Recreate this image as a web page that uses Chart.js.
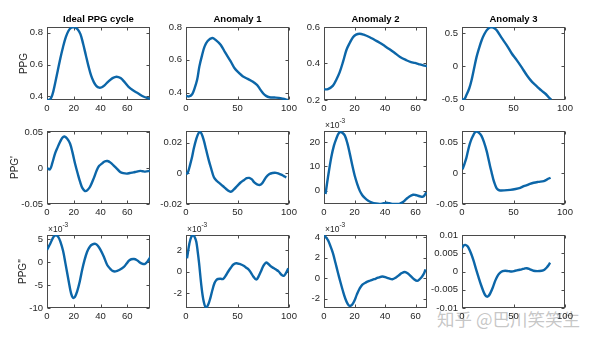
<!DOCTYPE html>
<html>
<head>
<meta charset="utf-8">
<script src="https://cdn.jsdelivr.net/npm/chart.js@4.4.1/dist/chart.umd.min.js"></script>
<style>
  body { margin: 0; background: #fff; width: 600px; height: 343px; position: relative; overflow: hidden; }
  canvas { position: absolute; }
  #wm { position: absolute; left: 437px; top: 306px; font: 17.5px "Noto Sans CJK SC", sans-serif;
        color: rgba(150, 150, 150, 0.55); white-space: nowrap; }
</style>
</head>
<body>
<div id="wm">知乎 @巴川笑笑生</div>
<script>
// --- labels ---
const titles = ["Ideal PPG cycle", "Anomaly 1", "Anomaly 2", "Anomaly 3"];
const rowLabels = ["PPG", "PPG'", "PPG''"];

// --- row 1: PPG ---
const idealX = [0, 2, 4, 6, 8, 10, 12, 14, 16, 18, 20.5, 23, 25, 27, 29, 31, 33, 35, 37, 39, 41, 43, 46, 49, 52, 55, 58, 61, 64, 68, 72, 77];
const idealY = [0.380, 0.378, 0.41, 0.48, 0.56, 0.64, 0.71, 0.77, 0.81, 0.83, 0.835, 0.82, 0.79, 0.73, 0.66, 0.59, 0.53, 0.49, 0.465, 0.455, 0.458, 0.47, 0.495, 0.515, 0.524, 0.515, 0.49, 0.46, 0.44, 0.42, 0.40, 0.385];

const an1X = [0, 3, 6, 8, 10.8, 13, 15.7, 18, 21, 25.5, 29, 33.6, 38, 43.4, 47, 51.6, 55, 59.8, 64, 68.9, 72, 75, 77.7, 81, 85.9, 90, 94, 99];
const an1Y = [0.380, 0.377, 0.39, 0.42, 0.478, 0.56, 0.63, 0.68, 0.715, 0.733, 0.72, 0.692, 0.645, 0.59, 0.55, 0.519, 0.50, 0.484, 0.47, 0.447, 0.42, 0.395, 0.38, 0.372, 0.37, 0.368, 0.363, 0.355];

const an2X = [0, 2.6, 5.9, 8, 10.3, 12.5, 14.7, 17, 19, 21, 23.4, 26, 30, 33, 36.5, 40, 43, 46, 49.6, 54, 57, 59.5, 62, 65, 67.5];
const an2Y = [0.258, 0.26, 0.279, 0.31, 0.353, 0.41, 0.474, 0.515, 0.544, 0.558, 0.563, 0.558, 0.544, 0.53, 0.514, 0.495, 0.478, 0.46, 0.437, 0.418, 0.408, 0.403, 0.397, 0.39, 0.385];

const an3X = [0, 2, 4.3, 7, 9.2, 11.5, 14.1, 16.5, 19, 21.5, 23.9, 26.5, 28.8, 31, 33.7, 38, 43.5, 48, 53.3, 58, 63.1, 68, 72.9, 77, 81, 84, 86.7];
const an3Y = [-0.50, -0.51, -0.44, -0.34, -0.218, -0.05, 0.137, 0.27, 0.39, 0.48, 0.544, 0.585, 0.595, 0.58, 0.544, 0.44, 0.316, 0.20, 0.087, -0.02, -0.142, -0.24, -0.31, -0.37, -0.42, -0.47, -0.51];

// --- row 2: PPG' ---
const d1X = [0, 2.2, 4, 6, 8, 9.7, 11.5, 13, 15, 17.2, 19, 21, 23, 24.7, 26.5, 28.5, 30, 32.2, 35, 37.2, 39, 41, 43, 45.2, 47.5, 49.7, 52, 54.7, 57, 59.7, 62, 64.7, 67, 69.7, 71.5, 73.4, 77];
const d1Y = [0.0, -0.002, 0.007, 0.02, 0.029, 0.036, 0.042, 0.0438, 0.041, 0.034, 0.022, 0.006, -0.008, -0.019, -0.028, -0.032, -0.031, -0.026, -0.014, -0.003, 0.003, 0.006, 0.009, 0.0097, 0.0075, 0.0037, -0.0005, -0.0055, -0.0072, -0.0078, -0.007, -0.006, -0.005, -0.004, -0.0045, -0.005, -0.004];

const d2X = [0, 1.5, 4.2, 6, 7.5, 10, 12, 13.4, 15, 17.3, 19.5, 22.2, 24.5, 27.1, 30, 33.6, 37, 40.2, 43.4, 46.5, 50, 53, 56.5, 59, 61.4, 64, 66.3, 69, 71.9, 74.5, 77.7, 81, 84, 87.5, 90, 92.4, 95, 97.4];
const d2Y = [0.0, 0.0, 0.0062, 0.011, 0.016, 0.0225, 0.026, 0.0269, 0.026, 0.0215, 0.0155, 0.0083, 0.003, -0.0026, -0.005, -0.007, -0.009, -0.0109, -0.012, -0.0105, -0.008, -0.006, -0.0043, -0.0032, -0.003, -0.004, -0.0059, -0.0072, -0.0076, -0.006, -0.0026, -0.0005, 0.0002, 0.0003, -0.0002, -0.0009, -0.0018, -0.0026];

// values in units of 1e-3
const d3X = [1, 2.6, 4.8, 6.5, 8.1, 9.5, 10.7, 12, 13.6, 15.3, 16.9, 18.5, 20.1, 21.8, 23.4, 25, 26.7, 29, 31.1, 34, 36.5, 39, 40.9, 43, 45.3, 47.5, 49.6, 52, 54, 56, 58.4, 60, 61.6, 63.2, 64.9, 66, 67];
const d3Y = [-1.4, 5.5, 13.8, 18.5, 21.4, 23.4, 24.1, 23.8, 22.7, 19.5, 15.2, 10.5, 6.2, 2.7, 0, -1.8, -3.0, -4.2, -4.8, -5.3, -5.5, -5.2, -5.0, -5.2, -5.5, -5.5, -5.4, -4.6, -3.4, -2.4, -1.7, -1.8, -2.1, -2.4, -2.5, -1.8, -0.7];

const d4X = [0.5, 2.5, 4.3, 6, 7.5, 9, 10.7, 12.3, 14, 16.5, 18.9, 21.5, 23.9, 25.5, 27.2, 28.8, 30.4, 32, 33.7, 35.3, 37, 41, 46.8, 52, 56.6, 60, 63.1, 66, 69.6, 74, 79.4, 81.5, 82.7, 86];
const d4Y = [0.0066, 0.016, 0.0256, 0.038, 0.0475, 0.055, 0.061, 0.066, 0.068, 0.066, 0.061, 0.05, 0.0366, 0.025, 0.012, 0.001, -0.0098, -0.018, -0.0246, -0.027, -0.0279, -0.0278, -0.0269, -0.0255, -0.0236, -0.021, -0.0192, -0.0172, -0.0154, -0.014, -0.0126, -0.011, -0.0098, -0.0072];

// --- row 3: PPG'' (units of 1e-3 except last) ---
const s1X = [0, 2.5, 5, 6.75, 8.5, 10, 12, 13.75, 16.25, 18, 19.5, 21, 22.5, 24.5, 26.25, 28, 30, 32, 34, 36.25, 38, 40, 42.5, 45, 47.5, 49, 51.25, 54, 57.5, 59.5, 61.25, 63, 65, 67, 68.75, 71, 73, 75, 77.5];
const s1Y = [2.7, 4.1, 5.6, 5.9, 5.5, 4.5, 2.5, -0.2, -4.2, -6.8, -7.8, -7.5, -6.4, -4.2, -1.7, 0.4, 2.3, 3.4, 3.9, 4.0, 3.6, 2.7, 1.2, -0.6, -1.5, -1.9, -2.0, -1.7, -1.0, -0.3, 0.35, 0.65, 0.7, 0.5, 0.1, -0.3, -0.4, 0.1, 1.2];

const s2X = [1, 3.3, 5, 7, 8.5, 10, 11.3, 12.7, 15, 17, 19.3, 21.5, 23.7, 25.7, 27.7, 29.5, 31, 33.5, 36, 38.5, 41, 43.5, 46, 48.7, 52, 56, 58.5, 61, 63, 65.3, 68.3, 70.5, 72.7, 75, 77.7, 80, 82.7, 85, 87.7, 90, 92.7, 95, 97, 99.3];
const s2Y = [1.23, 2.6, 3.2, 3.38, 3.2, 2.77, 1.9, 0.77, -1.38, -2.7, -3.38, -3.1, -2.45, -1.7, -1.07, -0.8, -0.7, -0.68, -0.7, -0.4, 0.0, 0.35, 0.65, 0.77, 0.7, 0.53, 0.35, 0.16, -0.1, -0.46, -0.76, -0.45, 0.0, 0.5, 0.83, 0.7, 0.46, 0.32, 0.16, 0.0, -0.3, -0.4, -0.15, 0.3];

const s3X = [0, 2.6, 4, 5.8, 7.5, 9.1, 10.7, 12.3, 14, 15.5, 16.7, 18.3, 19.9, 21.5, 23.2, 25, 27.5, 30, 32.9, 35.5, 38.3, 41, 43, 44.8, 47, 49.1, 51, 53, 55, 56.7, 59, 61, 62.7, 64.3, 65.5, 66.5];
const s3Y = [4.2, 3.7, 3.2, 2.46, 1.5, 0.55, -0.35, -1.2, -2.0, -2.5, -2.7, -2.6, -2.2, -1.6, -1.05, -0.65, -0.41, -0.25, -0.1, 0.05, 0.16, 0.05, -0.05, -0.1, 0.05, 0.29, 0.5, 0.6, 0.45, 0.22, -0.1, -0.26, -0.1, 0.16, 0.45, 0.86];

const s4X = [0, 1.5, 3.2, 5, 6.5, 9, 11.3, 13.7, 16.1, 18.5, 21, 22.6, 24.2, 25.8, 27.4, 30, 32.3, 34.7, 37.1, 39.5, 41.9, 45, 48.4, 51.6, 54.8, 58, 60.5, 62.9, 66, 69.4, 73, 77.4, 80, 82.3, 84, 85.5];
const s4Y = [0.0064, 0.0071, 0.0073, 0.007, 0.0064, 0.0048, 0.0029, 0.0006, -0.0016, -0.0037, -0.0056, -0.0065, -0.0069, -0.0067, -0.006, -0.0043, -0.0025, -0.0011, -0.0003, 0.0001, 0.0002, 0.0001, 0.0, 0.0002, 0.0004, 0.0006, 0.0008, 0.0009, 0.0006, 0.0002, 0.0001, 0.0002, 0.0005, 0.0011, 0.0017, 0.0024];

// --- tick labels ---
const xTicks77 = [0, 20, 40, 60];
const xTicks100 = [0, 50, 100];

// one entry per subplot, row by row
const panels = [
  { x: idealX, y: idealY, xMax: 77,   yMin: 0.378, yMax: 0.835, xTicks: xTicks77,  yTicks: [0.4, 0.6, 0.8] },
  { x: an1X,   y: an1Y,   xMax: 100,  yMin: 0.355, yMax: 0.8,   xTicks: xTicks100, yTicks: [0.4, 0.6, 0.8] },
  { x: an2X,   y: an2Y,   xMax: 67.5, yMin: 0.2,   yMax: 0.6,   xTicks: xTicks77,  yTicks: [0.2, 0.4, 0.6] },
  { x: an3X,   y: an3Y,   xMax: 100,  yMin: -0.515, yMax: 0.595, xTicks: xTicks100, yTicks: [-0.5, 0, 0.5] },
  { x: d1X,    y: d1Y,    xMax: 77,   yMin: -0.05, yMax: 0.0514, xTicks: xTicks77, yTicks: [-0.05, 0, 0.05] },
  { x: d2X,    y: d2Y,    xMax: 100,  yMin: -0.02, yMax: 0.0276, xTicks: xTicks100, yTicks: [-0.02, 0, 0.02] },
  { x: d3X,    y: d3Y,    xMax: 67.5, yMin: -5.5,  yMax: 24.5,  xTicks: xTicks77,  yTicks: [0, 10, 20], exp: true },
  { x: d4X,    y: d4Y,    xMax: 100,  yMin: -0.05, yMax: 0.069, xTicks: xTicks100, yTicks: [-0.05, 0, 0.05] },
  { x: s1X,    y: s1Y,    xMax: 77,   yMin: -10,   yMax: 5.95,  xTicks: xTicks77,  yTicks: [-10, -5, 0, 5], exp: true },
  { x: s2X,    y: s2Y,    xMax: 100,  yMin: -3.4,  yMax: 3.4,   xTicks: xTicks100, yTicks: [-2, 0, 2], exp: true },
  { x: s3X,    y: s3Y,    xMax: 67.5, yMin: -2.9,  yMax: 4.2,   xTicks: xTicks77,  yTicks: [-2, 0, 2, 4], exp: true },
  { x: s4X,    y: s4Y,    xMax: 100,  yMin: -0.01, yMax: 0.01,  xTicks: xTicks100, yTicks: [-0.01, -0.005, 0, 0.005, 0.01] }
];

// layout
const colLeft = [47, 186, 324, 462];
const rowTop = [27, 131, 235];
const plotW = 103, plotH = 73;
const padL = 44, padT = 22, padR = 16, padB = 18;
const FONT = '"Liberation Sans", Arial, sans-serif';
const BLUE = "#0c66a8";
const AXIS = "#4a4a4a";
const TEXT = "#262626";

const fmt = v => String(parseFloat(Number(v).toPrecision(6)));

panels.forEach((p, i) => {
  const row = Math.floor(i / 4), col = i % 4;
  const cv = document.createElement("canvas");
  cv.width = padL + plotW + padR;
  cv.height = padT + plotH + padB;
  cv.style.left = (colLeft[col] - padL) + "px";
  cv.style.top = (rowTop[row] - padT) + "px";
  document.body.appendChild(cv);

  // MATLAB-style box with inward ticks, titles, y labels, exponent
  const decor = {
    id: "decor" + i,
    beforeDatasetsDraw(chart) {
      const { ctx, chartArea: a, scales } = chart;
      const L = Math.round(a.left) + 0.5, T = Math.round(a.top) + 0.5;
      const R = Math.round(a.right) - 0.5, B = Math.round(a.bottom) - 0.5;
      ctx.save();
      ctx.strokeStyle = AXIS;
      ctx.lineWidth = 1;
      ctx.strokeRect(L, T, R - L, B - T);
      ctx.beginPath();
      p.xTicks.forEach(v => {
        const px = Math.round(scales.x.getPixelForValue(v)) + 0.5;
        if (px < L || px > R + 1) return;
        ctx.moveTo(px, B); ctx.lineTo(px, B - 3);
        ctx.moveTo(px, T); ctx.lineTo(px, T + 3);
      });
      p.yTicks.forEach(v => {
        const py = Math.round(scales.y.getPixelForValue(v)) + 0.5;
        if (py < T - 1 || py > B + 1) return;
        ctx.moveTo(L, py); ctx.lineTo(L + 3, py);
        ctx.moveTo(R, py); ctx.lineTo(R - 3, py);
      });
      ctx.stroke();
      ctx.restore();
    },
    afterDraw(chart) {
      const { ctx, chartArea: a } = chart;
      ctx.save();
      ctx.fillStyle = "#000";
      if (row === 0) {
        ctx.font = "bold 9.5px " + FONT;
        ctx.textAlign = "center";
        ctx.textBaseline = "alphabetic";
        ctx.fillText(titles[col], (a.left + a.right) / 2, a.top - 5);
      }
      ctx.fillStyle = TEXT;
      if (p.exp) {
        ctx.font = "8.5px " + FONT;
        ctx.textAlign = "left";
        ctx.fillText("\u00d710", a.left + 1, a.top - 3);
        const w = ctx.measureText("\u00d710").width;
        ctx.font = "6.5px " + FONT;
        ctx.fillText("-3", a.left + 1 + w, a.top - 8);
      }
      if (col === 0) {
        ctx.font = "9.5px " + FONT;
        let maxW = 0;
        p.yTicks.forEach(v => { maxW = Math.max(maxW, ctx.measureText(fmt(v)).width); });
        const x = a.left - 4 - maxW - 3;
        ctx.font = "10px " + FONT;
        ctx.translate(x, (a.top + a.bottom) / 2);
        ctx.rotate(-Math.PI / 2);
        ctx.textAlign = "center";
        ctx.textBaseline = "alphabetic";
        ctx.fillText(rowLabels[row], 0, 0);
      }
      ctx.restore();
    }
  };

  new Chart(cv, {
    type: "line",
    data: {
      datasets: [{
        data: p.x.map((v, k) => ({ x: v, y: p.y[k] })),
        borderColor: BLUE,
        borderWidth: 2.4,
        pointRadius: 0,
        fill: false,
        tension: 0.35
      }]
    },
    options: {
      responsive: false,
      animation: false,
      devicePixelRatio: 1,
      layout: { padding: { top: padT, right: padR, left: 0, bottom: 0 } },
      plugins: { legend: { display: false }, tooltip: { enabled: false } },
      scales: {
        x: {
          type: "linear",
          min: 0,
          max: p.xMax,
          afterBuildTicks: s => { s.ticks = p.xTicks.map(v => ({ value: v })); },
          afterFit: s => { s.height = padB; },
          grid: { display: false, drawTicks: false },
          border: { display: false },
          ticks: { font: { family: FONT, size: 9.5 }, color: TEXT, padding: 3, maxRotation: 0, autoSkip: false, callback: fmt }
        },
        y: {
          type: "linear",
          min: p.yMin,
          max: p.yMax,
          afterBuildTicks: s => { s.ticks = p.yTicks.map(v => ({ value: v })); },
          afterFit: s => { s.width = padL; },
          grid: { display: false, drawTicks: false },
          border: { display: false },
          ticks: { font: { family: FONT, size: 9.5 }, color: TEXT, padding: 4, autoSkip: false, callback: fmt }
        }
      }
    },
    plugins: [decor]
  });
});
</script>
</body>
</html>
